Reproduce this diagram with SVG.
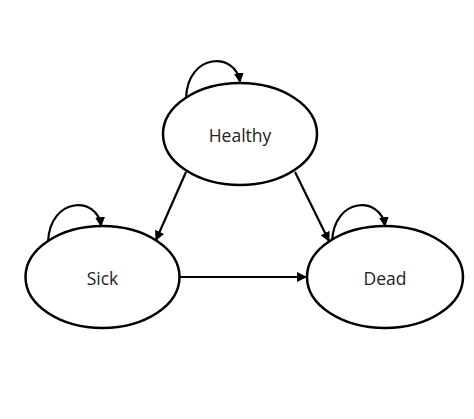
<svg xmlns="http://www.w3.org/2000/svg" width="474" height="419" viewBox="0 0 474 419">
<style>
.node ellipse{fill:#fff;stroke:#000;stroke-width:2.5}
.node text{font-family:"Open Sans","Liberation Sans",sans-serif;font-size:17.5px;fill:#222;text-anchor:middle;dominant-baseline:central}
.edge{fill:none;stroke:#000;stroke-width:2.2;marker-end:url(#ah)}
</style>
<defs>
<marker id="ah" viewBox="0 0 10 10" refX="9" refY="5" markerWidth="4.5" markerHeight="4.5" orient="auto" markerUnits="strokeWidth">
<path d="M0,0 L10,5 L0,10 Z" fill="#000"/>
</marker>
</defs>
<rect width="474" height="419" fill="#fff"/>
<g id="connectors">
<path class="edge" d="M186,172 L156,240"/>
<path class="edge" d="M295,172 L329,241"/>
<path class="edge" d="M180,277 L306,277"/>
<path class="edge" d="M186,98 C188,52 236,52 240,82"/>
<path class="edge" d="M48,242 C50,196 98,196 101,226"/>
<path class="edge" d="M332,242 C334,196 381,196 385,226"/>
</g>
<g id="healthy" class="node"><ellipse cx="240" cy="134" rx="77" ry="51"/><text x="240" y="135">Healthy</text></g>
<g id="sick" class="node"><ellipse cx="102.5" cy="277" rx="77" ry="51"/><text x="102.5" y="278">Sick</text></g>
<g id="dead" class="node"><ellipse cx="385" cy="277" rx="78" ry="51"/><text x="385" y="278">Dead</text></g>
</svg>
